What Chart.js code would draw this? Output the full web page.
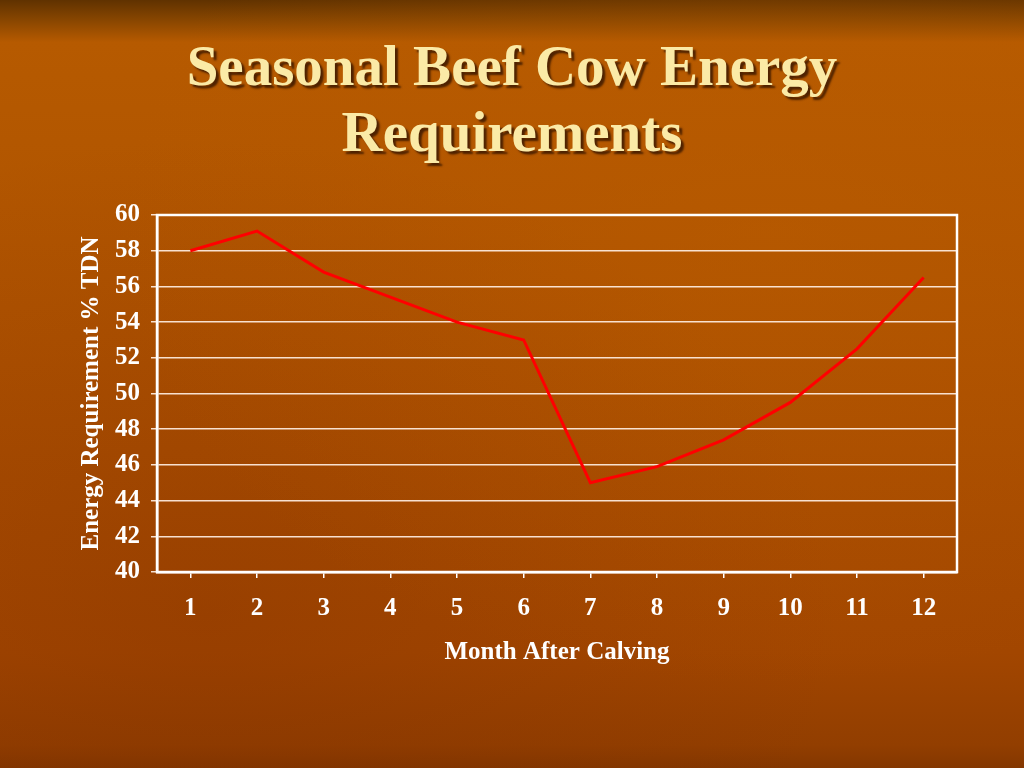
<!DOCTYPE html>
<html>
<head>
<meta charset="utf-8">
<script src="https://cdn.jsdelivr.net/npm/chart.js@4.4.1/dist/chart.umd.min.js"></script>
<style>
  html, body { margin: 0; padding: 0; }
  body {
    width: 1024px; height: 768px; overflow: hidden; position: relative;
    background:
      radial-gradient(ellipse at 75% 30%, rgba(190,95,0,0.35), rgba(0,0,0,0) 60%),
      radial-gradient(ellipse at 20% 80%, rgba(120,40,0,0.25), rgba(0,0,0,0) 55%),
      linear-gradient(to bottom, #603200 0%, #864500 2.5%, #b65a00 5.5%, #ae5200 40%, #a24600 85%, #923e00 97%, #843700 100%);
  }
  #title {
    position: absolute; left: 0; top: 33px; width: 1024px; text-align: center;
    font-family: "Liberation Serif", "Times New Roman", serif; font-weight: bold;
    font-size: 57px; line-height: 66px; color: #FBEAA6;
    text-shadow: 3px 3px 2px rgba(60,25,0,0.85);
  }
  #chart { position: absolute; left: 0; top: 0; }
</style>
</head>
<body>
<div id="title">Seasonal Beef Cow Energy<br>Requirements</div>
<canvas id="chart" width="1024" height="768"></canvas>
<script>
// Dados do gráfico
const months = ['1', '2', '3', '4', '5', '6', '7', '8', '9', '10', '11', '12'];
const energyTdn = [58.0, 59.1, 56.8, 55.4, 54.0, 53.0, 45.0, 45.9, 47.4, 49.5, 52.5, 56.5];
const yMin = 40;
const yMax = 60;
const yStep = 2;

const serif = '"Liberation Serif", "Times New Roman", serif';

// Moldura branca em volta da área do gráfico
const framePlugin = {
    id: 'frame',
    afterDraw(chart) {
        const { ctx, chartArea } = chart;
        ctx.save();
        ctx.strokeStyle = '#ffffff';
        ctx.lineWidth = 2.5;
        ctx.strokeRect(chartArea.left, chartArea.top, chartArea.right - chartArea.left, chartArea.bottom - chartArea.top);
        ctx.restore();
    }
};

new Chart(document.getElementById('chart').getContext('2d'), {
    type: 'line',
    data: {
        labels: months,
        datasets: [{
            label: 'Energy Requirement % TDN',
            data: energyTdn,
            borderColor: '#ff0000',
            borderWidth: 3,
            pointRadius: 0,
            tension: 0,
            fill: false
        }]
    },
    options: {
        responsive: false,
        animation: false,
        devicePixelRatio: 1,
        layout: {
            padding: { left: 0, top: 215, right: 67, bottom: 86 }
        },
        plugins: {
            legend: { display: false },
            tooltip: { enabled: false }
        },
        scales: {
            x: {
                offset: true,
                grid: {
                    display: true,
                    drawOnChartArea: false,
                    color: '#ffffff',
                    lineWidth: 1.5,
                    tickLength: 6
                },
                border: { color: '#ffffff', width: 2.5 },
                ticks: {
                    color: '#ffffff',
                    padding: 16,
                    font: { family: serif, size: 25, weight: 'bold' }
                },
                title: {
                    display: true,
                    text: 'Month After Calving',
                    color: '#ffffff',
                    padding: { top: 0, bottom: 14 },
                    font: { family: serif, size: 25, weight: 'bold' }
                },
                afterFit(scale) { scale.height = 110; }
            },
            y: {
                min: yMin,
                max: yMax,
                grid: {
                    color: 'rgba(255,238,225,0.92)',
                    lineWidth: 1.5,
                    tickLength: 6
                },
                border: { color: '#ffffff', width: 2.5 },
                ticks: {
                    stepSize: yStep,
                    color: '#ffffff',
                    padding: 11,
                    font: { family: serif, size: 25, weight: 'bold' }
                },
                title: {
                    display: true,
                    text: 'Energy Requirement % TDN',
                    color: '#ffffff',
                    padding: { top: 77, bottom: 0 },
                    font: { family: serif, size: 25, weight: 'bold' }
                },
                afterFit(scale) { scale.width = 157; }
            }
        }
    },
    plugins: [framePlugin]
});
</script>
</body>
</html>
